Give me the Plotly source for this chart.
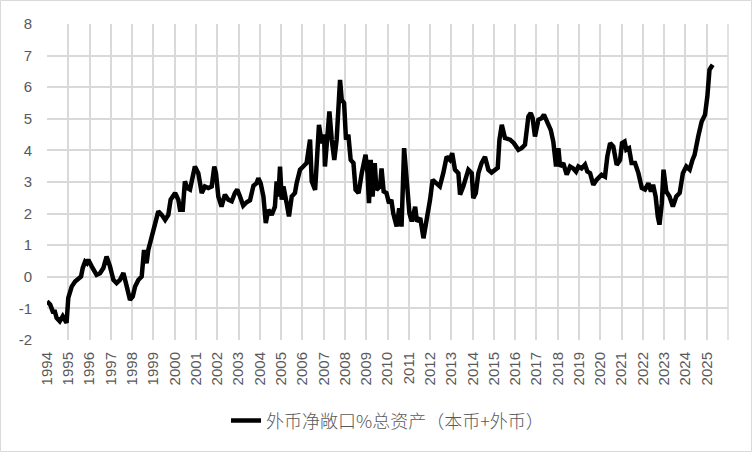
import plotly.graph_objects as go

# decimal-year positions
dates = [
1994.00,1994.15,1994.30,1994.35,1994.45,1994.60,1994.74,1994.85,1994.92,1995.00,
1995.16,1995.32,1995.47,1995.60,1995.68,1995.79,1995.87,1995.94,1996.10,1996.33,
1996.49,1996.65,1996.80,1996.96,1997.12,1997.27,1997.43,1997.59,1997.75,1997.90,
1998.03,1998.14,1998.29,1998.45,1998.56,1998.68,1998.76,1998.92,1999.08,1999.23,
1999.39,1999.55,1999.70,1999.81,2000.02,2000.17,2000.25,2000.38,2000.48,2000.59,
2000.72,2000.95,2001.11,2001.27,2001.42,2001.58,2001.74,2001.86,2001.94,2002.05,
2002.20,2002.36,2002.52,2002.68,2002.83,2002.94,2003.07,2003.22,2003.38,2003.54,
2003.70,2003.85,2003.93,2004.04,2004.17,2004.28,2004.40,2004.56,2004.71,2004.79,
2004.87,2004.95,2005.03,2005.11,2005.26,2005.37,2005.50,2005.65,2005.73,2005.89,
2006.04,2006.20,2006.36,2006.44,2006.60,2006.67,2006.78,2006.91,2007.02,2007.06,
2007.15,2007.27,2007.38,2007.50,2007.61,2007.77,2007.85,2007.96,2008.05,2008.16,
2008.27,2008.40,2008.50,2008.64,2008.79,2008.97,2009.06,2009.13,2009.21,2009.30,
2009.40,2009.48,2009.65,2009.72,2009.82,2009.95,2010.07,2010.18,2010.27,2010.43,
2010.55,2010.66,2010.78,2010.90,2011.03,2011.14,2011.30,2011.38,2011.54,2011.69,
2011.84,2012.00,2012.12,2012.30,2012.46,2012.62,2012.78,2012.93,2013.04,2013.17,
2013.33,2013.41,2013.56,2013.80,2013.96,2014.03,2014.15,2014.27,2014.42,2014.58,
2014.74,2014.89,2015.05,2015.18,2015.26,2015.37,2015.52,2015.76,2015.94,2016.15,
2016.30,2016.46,2016.62,2016.73,2016.82,2016.93,2017.09,2017.24,2017.35,2017.51,
2017.67,2017.79,2017.92,2018.03,2018.11,2018.26,2018.42,2018.58,2018.73,2018.86,
2018.97,2019.12,2019.28,2019.39,2019.52,2019.67,2019.83,2020.06,2020.22,2020.33,
2020.46,2020.61,2020.77,2020.93,2021.02,2021.14,2021.22,2021.35,2021.47,2021.63,
2021.79,2021.95,2022.10,2022.26,2022.38,2022.48,2022.60,2022.70,2022.78,2022.89,
2022.97,2023.10,2023.25,2023.41,2023.57,2023.73,2023.88,2024.04,2024.20,2024.33,
2024.43,2024.60,2024.76,2024.92,2025.03,2025.13,2025.28]

values = [
-0.78,-0.88,-1.15,-1.05,-1.30,-1.41,-1.25,-1.41,-1.46,-0.67,
-0.31,-0.15,-0.04,0.01,0.28,0.48,0.43,0.54,0.33,0.06,
0.11,0.28,0.64,0.33,-0.10,-0.20,-0.10,0.12,-0.31,-0.73,
-0.62,-0.31,-0.10,0.01,0.85,0.43,0.85,1.28,1.59,2.07,
1.96,1.80,1.96,2.44,2.65,2.44,2.12,2.12,3.02,2.81,
2.76,3.49,3.28,2.65,2.86,2.81,2.86,3.49,3.28,2.54,
2.22,2.60,2.44,2.39,2.65,2.76,2.54,2.25,2.36,2.42,
2.88,2.96,3.12,2.96,2.54,1.70,2.12,1.96,2.22,3.02,
2.54,3.49,2.44,2.86,2.33,1.91,2.54,2.65,2.96,3.39,
3.49,3.60,4.34,3.02,2.75,3.80,4.81,4.23,4.50,3.49,
4.10,5.23,4.34,3.70,4.34,6.23,5.60,5.50,4.34,4.50,
3.70,3.60,2.75,2.65,3.28,3.86,3.28,2.33,3.70,2.54,
3.60,2.75,2.86,3.43,2.70,2.65,2.33,2.44,2.01,1.59,
2.17,1.59,4.07,2.86,2.01,1.75,2.22,1.75,1.86,1.22,
1.75,2.44,3.07,2.96,2.86,3.28,3.80,3.70,3.91,3.39,
3.28,2.60,2.86,3.39,3.28,2.49,2.65,3.28,3.60,3.80,
3.39,3.30,3.39,3.45,4.34,4.81,4.39,4.34,4.23,4.02,
4.07,4.18,5.07,5.18,5.02,4.44,4.97,5.02,5.13,4.91,
4.65,4.28,3.49,4.07,3.49,3.60,3.23,3.49,3.43,3.33,
3.49,3.43,3.55,3.33,3.28,2.91,3.07,3.23,3.17,3.81,
4.23,4.12,3.54,3.70,4.23,4.28,4.02,4.07,3.60,3.60,
3.28,2.81,2.76,2.96,2.70,2.91,2.54,1.91,1.65,2.33,
3.39,2.70,2.54,2.22,2.54,2.65,3.28,3.49,3.39,3.70,
3.86,4.44,4.91,5.13,5.71,6.55,6.71]

year_ticks = list(range(1994, 2027))
year_labels = [str(y) for y in range(1994, 2026)] + [""]
y_ticks = list(range(-2, 9))
y_labels = [str(v) for v in y_ticks]
series_name = "外币净敞口%总资产（本币+外币）"

W, H = 752, 452
L, R, T, B = 47, 24, 24, 112
pw, ph = W - L - R, H - T - B

fig = go.Figure()
fig.add_trace(go.Scatter(
    x=dates, y=values, mode="lines", name=series_name,
    line=dict(color="#000000", width=4.5, shape="linear"),
    showlegend=True,
))

grid = "#d9d9d9"
font_color = "#595959"
fig.update_layout(
    width=W, height=H,
    margin=dict(l=L, r=R, t=T, b=B, pad=0, autoexpand=False),
    paper_bgcolor="white", plot_bgcolor="white",
    font=dict(family="Liberation Sans, Arial, sans-serif", color=font_color, size=15),
    showlegend=True,
    legend=dict(
        orientation="h", x=0.5, xanchor="center", y=-0.256, yanchor="middle",
        font=dict(family="Noto Sans CJK SC, sans-serif", size=18, color=font_color, weight=300),
        bgcolor="rgba(0,0,0,0)",
    ),
    xaxis=dict(
        range=[1994, 2026], tickmode="array", tickvals=year_ticks, ticktext=year_labels,
        tickangle=-90, showgrid=True, gridcolor=grid, gridwidth=1.5,
        zeroline=False, showline=False, ticks="", ticklabelstandoff=8,
        tickfont=dict(size=15, color=font_color), automargin=False,
    ),
    yaxis=dict(
        range=[-2, 8], tickmode="array", tickvals=y_ticks, ticktext=y_labels,
        showgrid=True, gridcolor=grid, gridwidth=1.5,
        zeroline=False, showline=False, ticks="", ticklabelstandoff=14,
        tickfont=dict(size=15, color=font_color), automargin=False,
    ),
    shapes=[
        dict(type="rect", xref="paper", yref="paper",
             x0=-(L - 0.5) / pw, x1=1 + (R - 0.5) / pw,
             y0=-(B - 0.5) / ph, y1=1 + (T - 0.5) / ph,
             line=dict(color=grid, width=1), fillcolor="rgba(0,0,0,0)", layer="below"),
        dict(type="line", xref="paper", yref="paper", x0=1, x1=1, y0=0, y1=1,
             line=dict(color=grid, width=1.5), layer="below"),
    ],
)

fig.write_html("out.html", config={"displayModeBar": False},
               post_script="document.body.style.margin='0';document.body.style.overflow='hidden';")
